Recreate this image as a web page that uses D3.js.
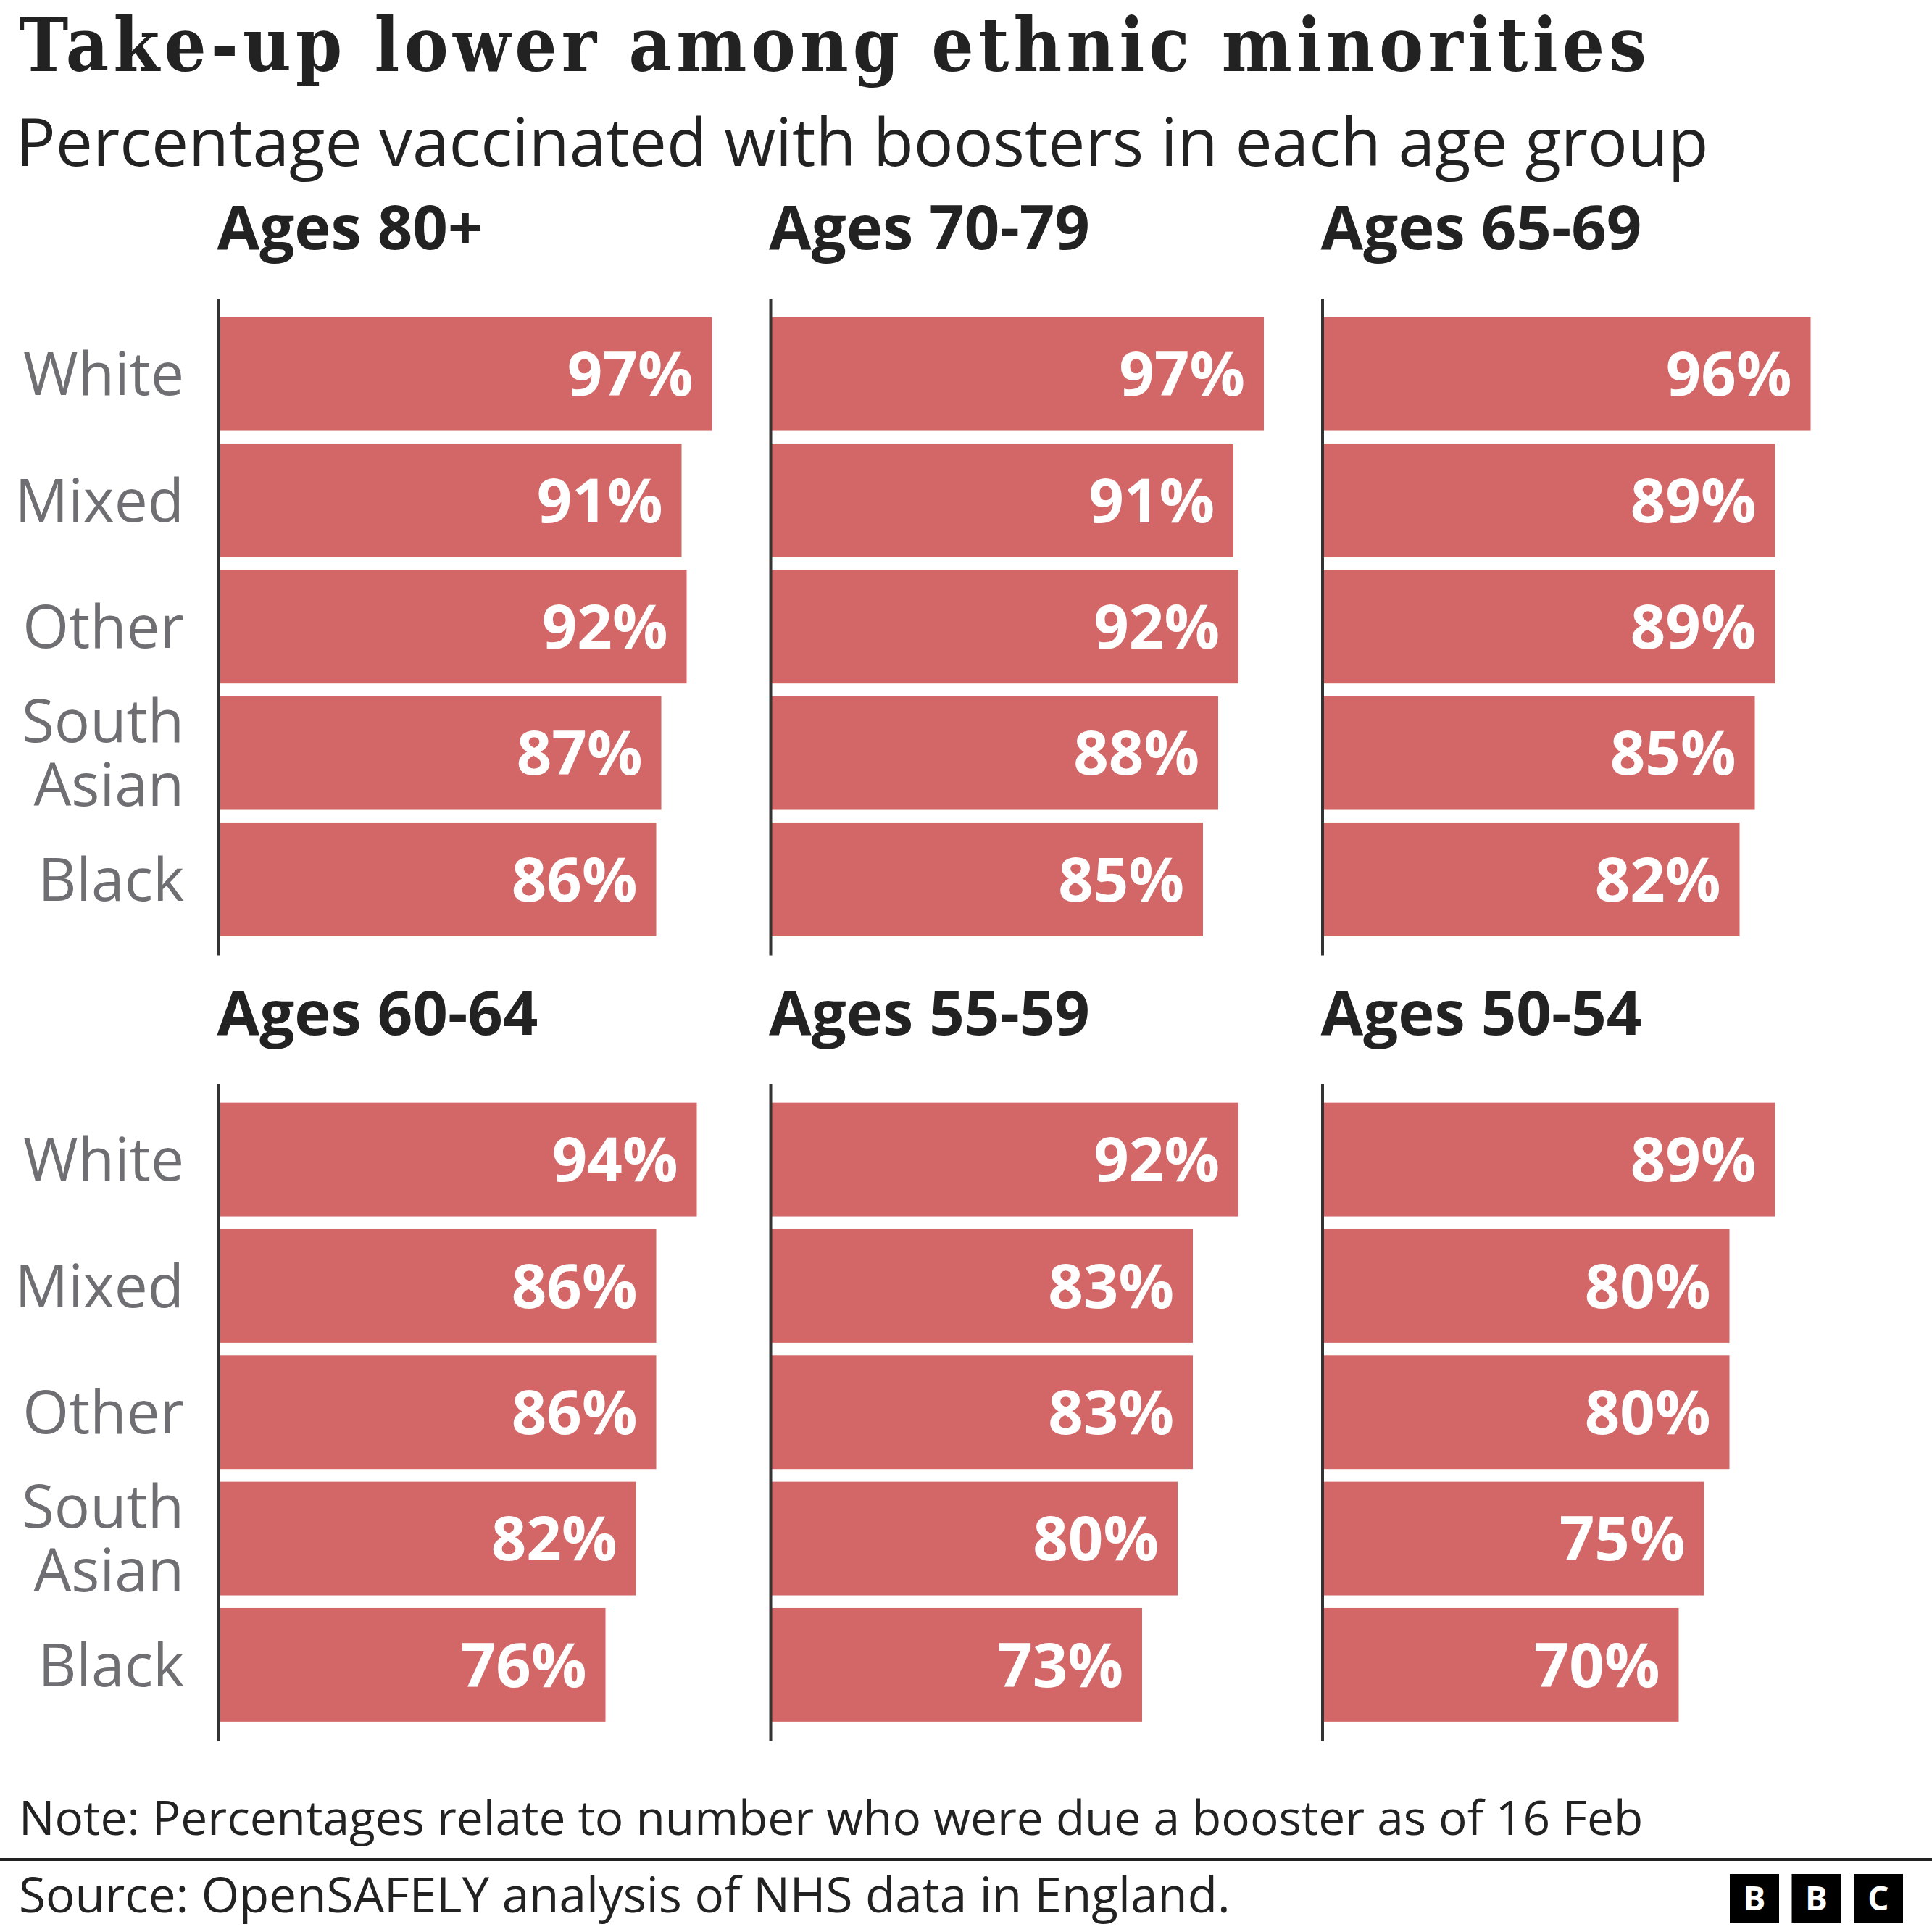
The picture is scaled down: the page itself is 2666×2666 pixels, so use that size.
<!DOCTYPE html>
<html>
<head>
<meta charset="utf-8">
<script src="https://cdn.jsdelivr.net/npm/d3@7"></script>
<style>
  html, body { margin: 0; padding: 0; background: #fff; }
  svg { display: block; }
</style>
</head>
<body>
<script>
// ---------- DATA ----------
const categories = ["White", "Mixed", "Other", "South Asian", "Black"];
const ageGroups = ["Ages 80+", "Ages 70-79", "Ages 65-69", "Ages 60-64", "Ages 55-59", "Ages 50-54"];
const ages80plus = [97, 91, 92, 87, 86];
const ages70to79 = [97, 91, 92, 88, 85];
const ages65to69 = [96, 89, 89, 85, 82];
const ages60to64 = [94, 86, 86, 82, 76];
const ages55to59 = [92, 83, 83, 80, 73];
const ages50to54 = [89, 80, 80, 75, 70];
const seriesValues = [ages80plus, ages70to79, ages65to69, ages60to64, ages55to59, ages50to54];

const titleText = "Take-up lower among ethnic minorities";
const subtitleText = "Percentage vaccinated with boosters in each age group";
const noteText = "Note: Percentages relate to number who were due a booster as of 16 Feb";
const sourceText = "Source: OpenSAFELY analysis of NHS data in England.";

// ---------- STYLE / LAYOUT ----------
const W = 2666, H = 2666;
const barColor = "#d36666";
const textDark = "#222222";
const labelGray = "#6e6e73";
const sans = "'Open Sans', 'Noto Sans', sans-serif";
const serif = "'DejaVu Serif', 'Liberation Serif', serif";

const svg = d3.select("body").append("svg")
  .attr("width", W).attr("height", H)
  .attr("viewBox", `0 0 ${W} ${H}`);
svg.append("rect").attr("width", W).attr("height", H).attr("fill", "#fff");

function fitWidth(sel, target) {
  const fs = parseFloat(sel.attr("font-size"));
  const len = sel.node().getComputedTextLength();
  sel.attr("font-size", fs * target / len);
}

// Title & subtitle
const title = svg.append("text")
  .attr("x", 26).attr("y", 98)
  .attr("font-family", serif).attr("font-weight", 700)
  .style("font-stretch", "condensed")
  .attr("font-size", 102).attr("fill", textDark)
  .text(titleText);
{
  const len = title.node().getComputedTextLength();
  if (len < 2246) title.attr("textLength", 2246).attr("lengthAdjust", "spacing");
  else fitWidth(title, 2246);
}

const subtitle = svg.append("text")
  .attr("x", 22).attr("y", 229)
  .attr("font-family", sans).attr("font-weight", 400)
  .attr("font-size", 82).attr("fill", textDark)
  .text(subtitleText);
fitWidth(subtitle, 2336);

// Panels
const panelW = 700;
const x = d3.scaleLinear().domain([0, 100]).range([0, panelW]);
const colStep = 761.5, rowStep = 1084;
const axisX0 = 301.5, axisTop0 = 411.5, axisBot0 = 1318;
const labelFS = 85;
const capH = labelFS * 0.714;
const catFS = 82;
const catCap = catFS * 0.714;

seriesValues.forEach((vals, i) => {
  const col = i % 3, row = Math.floor(i / 3);
  const ax = axisX0 + col * colStep;
  const top = axisTop0 + row * rowStep;
  const bot = axisBot0 + row * rowStep;

  const y = d3.scaleBand().domain(categories).range([top, bot])
    .paddingInner(0.1).paddingOuter(0.15);

  const g = svg.append("g");

  // panel title
  g.append("text")
    .attr("x", ax - 2).attr("y", top - 68)
    .attr("font-family", sans).attr("font-weight", 700)
    .attr("font-size", 85).attr("fill", textDark)
    .text(ageGroups[i]);

  const data = categories.map((c, k) => ({ cat: c, v: vals[k] }));

  // bars
  g.selectAll("rect.bar").data(data).join("rect")
    .attr("class", "bar")
    .attr("x", ax + 2)
    .attr("y", d => y(d.cat))
    .attr("width", d => x(d.v))
    .attr("height", y.bandwidth())
    .attr("fill", barColor);

  // value labels
  g.selectAll("text.val").data(data).join("text")
    .attr("class", "val")
    .attr("x", d => ax + 2 + x(d.v) - 26)
    .attr("y", d => y(d.cat) + y.bandwidth() / 2 + capH / 2)
    .attr("text-anchor", "end")
    .attr("font-family", sans).attr("font-weight", 700)
    .attr("font-size", labelFS).attr("fill", "#fff")
    .text(d => d.v + "%");

  // axis line via d3 axis
  const axis = d3.axisLeft(y).tickSize(0).tickSizeOuter(0).tickFormat("");
  const ag = g.append("g").attr("transform", `translate(${ax},0)`).call(axis);
  ag.select(".domain").attr("stroke", "#333").attr("stroke-width", 4);
  ag.selectAll(".tick").remove();

  // category labels (left column only)
  if (col === 0) {
    data.forEach(d => {
      const words = d.cat.split(" ");
      const lh = 88;
      const cy = y(d.cat) + y.bandwidth() / 2;
      const firstBase = cy + catCap / 2 - (words.length - 1) * lh / 2;
      words.forEach((w, k) => {
        g.append("text")
          .attr("text-anchor", "end")
          .attr("font-family", sans).attr("font-weight", 400)
          .attr("font-size", catFS).attr("fill", labelGray)
          .attr("x", 254).attr("y", firstBase + k * lh).text(w);
      });
    });
  }
});

// Note
const note = svg.append("text")
  .attr("x", 26).attr("y", 2532)
  .attr("font-family", sans).attr("font-weight", 400)
  .attr("font-size", 66).attr("fill", textDark)
  .text(noteText);
fitWidth(note, 2242);

// Separator
svg.append("line")
  .attr("x1", 0).attr("x2", W).attr("y1", 2566).attr("y2", 2566)
  .attr("stroke", "#222").attr("stroke-width", 4);

// Source
const source = svg.append("text")
  .attr("x", 26).attr("y", 2639)
  .attr("font-family", sans).attr("font-weight", 400)
  .attr("font-size", 66).attr("fill", textDark)
  .text(sourceText);
fitWidth(source, 1672);

// BBC logo
const logoLetters = ["B", "B", "C"];
const logo = svg.append("g");
logoLetters.forEach((L, k) => {
  const lx = 2387 + k * 85.5;
  logo.append("rect").attr("x", lx).attr("y", 2586).attr("width", 68).attr("height", 67).attr("fill", "#000");
  logo.append("text").attr("x", lx + 34).attr("y", 2586 + 33.5 + 16.5)
    .attr("text-anchor", "middle")
    .attr("font-family", sans).attr("font-weight", 700)
    .attr("font-size", 46).attr("fill", "#fff").text(L);
});
</script>
</body>
</html>
